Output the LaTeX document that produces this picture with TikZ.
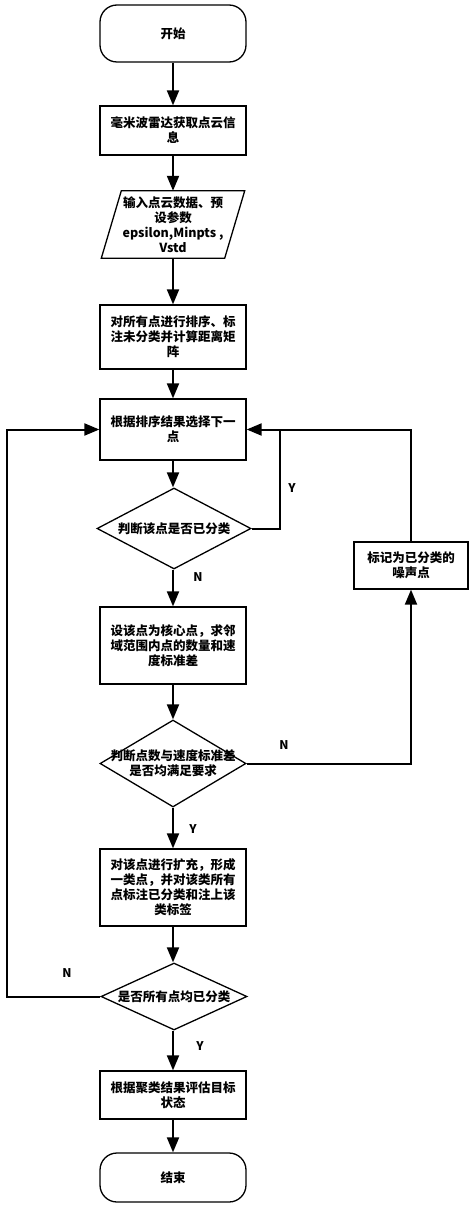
\documentclass[tikz,border=0pt]{standalone}
\usepackage{fontspec}
\setmainfont{Noto Sans CJK SC}
\usetikzlibrary{arrows.meta,shapes.geometric,calc}
\tikzset{
  base/.style={draw=black,line width=1.3pt,align=center,inner sep=0pt,
    font=\fontsize{12.5}{15}\selectfont\bfseries},
  box/.style={base,rectangle,minimum width=146pt},
  term/.style={base,rectangle,rounded corners=17pt,minimum width=146pt},
  dia/.style={draw=black,line width=1.3pt,diamond,inner sep=0pt},
  txt/.style={align=center,inner sep=0pt,font=\fontsize{12.5}{15}\selectfont\bfseries},
  lab/.style={inner sep=0pt,font=\fontsize{12}{14}\selectfont\bfseries},
  line/.style={line width=2pt},
  arr/.style={line width=2pt,-{Triangle[length=15pt,width=12pt]}}
}
\begin{document}
\begin{tikzpicture}[x=1pt,y=-1pt]
\useasboundingbox (0,0) rectangle (474,1209);
\node[term,minimum height=57pt] (start) at (173,33.5) {开始};
\node[box,minimum height=49pt] (b1) at (173,130.5) {毫米波雷达获取点云信\\息};
\node[txt,minimum width=143pt,minimum height=67pt] (io) at (173,224.5) {输入点云数据、预\\设参数\\epsilon,Minpts ,\\Vstd};
\draw[line width=1.3pt] ($(io.north west)+(20,0)$) -- (io.north east) -- ($(io.south east)+(-20,0)$) -- (io.south west) -- cycle;
\node[box,minimum height=64pt] (b2) at (173,337) {对所有点进行排序、标\\注未分类并计算距离矩\\阵};
\node[box,minimum height=61pt] (b3) at (173,429.5) {根据排序结果选择下一\\点};
\node[dia,minimum width=154pt,minimum height=81pt] (d1) at (174,528.5) {};
\node[txt] (d1t) at (d1.center) {判断该点是否已分类};
\node[box,minimum height=77pt] (b4) at (173,645.5) {设该点为核心点，求邻\\域范围内点的数量和速\\度标准差};
\node[dia,minimum width=146pt,minimum height=87pt] (d2) at (173,763.5) {};
\node[txt] (d2t) at (d2.center) {判断点数与速度标准差\\是否均满足要求};
\node[box,minimum height=77pt] (b5) at (173,887.5) {对该点进行扩充，形成\\一类点，并对该类所有\\点标注已分类和注上该\\类标签};
\node[dia,minimum width=146pt,minimum height=67pt] (d3) at (174,996.5) {};
\node[txt] (d3t) at (d3.center) {是否所有点均已分类};
\node[box,minimum height=48pt] (b6) at (173,1095) {根据聚类结果评估目标\\状态};
\node[term,minimum height=49pt] (end) at (173,1177.5) {结束};
\node[box,minimum width=114pt,minimum height=47pt] (noise) at (411,565.5) {标记为已分类的\\噪声点};
\coordinate (yj) at ([xshift=33pt]b3.east);
\coordinate (lj) at (7,0);
% main flow
\draw[arr] (start) -- (b1);
\draw[arr] (b1) -- (io);
\draw[arr] (io) -- (b2);
\draw[arr] (b2) -- (b3);
\draw[arr] (b3) -- (b3 |- d1.north);
\draw[arr] (d1.south -| b4) -- (b4);
\draw[arr] (b4) -- (d2.north);
\draw[arr] (d2.south) -- (b5);
\draw[arr] (b5) -- (b5 |- d3.north);
\draw[arr] (d3.south -| b6) -- (b6);
\draw[arr] (b6) -- (end);
% loops
\draw[arr] (d1.east) -| (yj) -- (b3.east);
\draw[arr] (d2.east) -| (noise.south);
\draw[line] (noise.north) |- (yj);
\draw[arr] (d3.west) -- (d3.west -| lj) |- (b3.west);
% labels
\node[lab] (ly1) at (292,488) {Y};
\node[lab] (ln1) at (198,577) {N};
\node[lab] (ln2) at (284,745) {N};
\node[lab] (ly2) at (193,829) {Y};
\node[lab] (ln3) at (67,973) {N};
\node[lab] (ly3) at (200,1046) {Y};
\end{tikzpicture}
\end{document}
